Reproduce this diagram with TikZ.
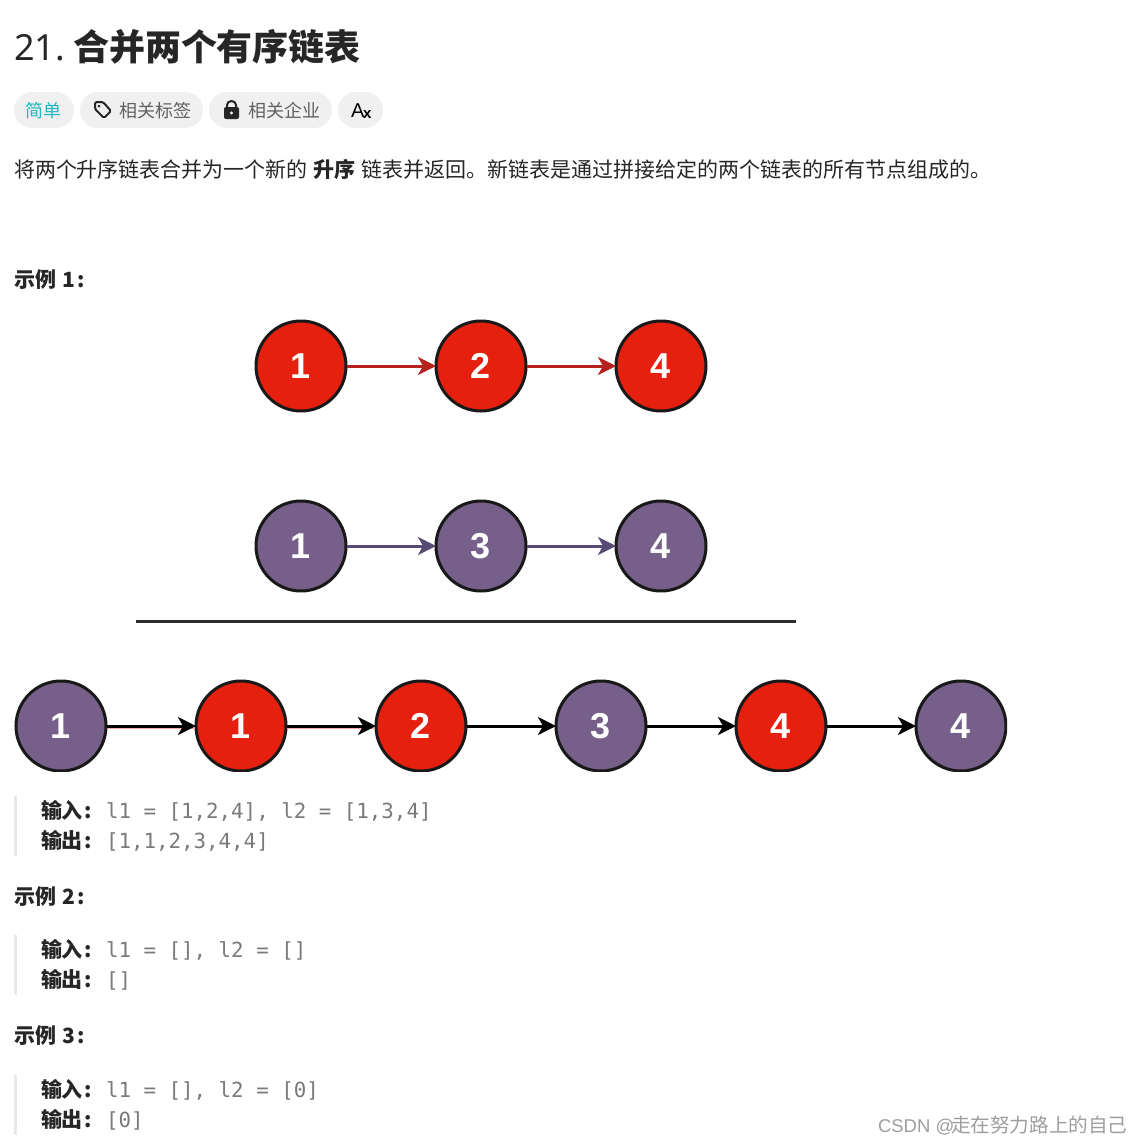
\documentclass[tikz,border=0pt]{standalone}
\usepackage{fontspec}
\setmainfont{Noto Sans CJK SC}
\newfontfamily\latinFont{Noto Sans}
\newfontfamily\arialFont{Liberation Sans}
\newfontfamily\codeFont{DejaVu Sans Mono}
\usetikzlibrary{arrows.meta}
\definecolor{listRed}{HTML}{E5200F}
\definecolor{listPurple}{HTML}{766089}
\definecolor{lineRed}{HTML}{B5211C}
\definecolor{linePurple}{HTML}{574A75}
\definecolor{pillGray}{HTML}{F0F0F0}
\definecolor{barGray}{HTML}{E8E8E8}
\definecolor{inkDark}{HTML}{262626}
\tikzset{
  txt/.style={anchor=base west,inner sep=0pt,outer sep=0pt,text=inkDark},
  body/.style={txt,font=\fontsize{21}{24}\selectfont},
  boldText/.style={body,font=\fontsize{21}{24}\selectfont\bfseries},
  codeText/.style={txt,text=black!52,font=\fontsize{20.8}{24}\selectfont\codeFont},
  tagText/.style={txt,text=black!62,font=\fontsize{18}{22}\selectfont},
  pill/.style={fill=pillGray,rounded corners=18pt,minimum height=36pt,inner sep=0pt},
  listNode/.style={shape=circle,draw=black!90,line width=3pt,minimum size=90pt,inner sep=0pt,
    text=white,font=\fontsize{36}{40}\selectfont\arialFont\bfseries},
  redNode/.style={listNode,fill=listRed},
  purpleNode/.style={listNode,fill=listPurple},
  linkArrow/.style={-{Stealth[length=18pt,width=18pt,inset=5pt]},line width=3pt,shorten >=-1.5pt,shorten <=-1pt},
}
\begin{document}
\begin{tikzpicture}[x=1pt,y=-1pt]
\path[use as bounding box,fill=white] (0,0) rectangle (1143,1144);
%% heading
\node[txt,font=\fontsize{36}{40}\selectfont\latinFont] (num) at (14,60) {21.};
\node[txt,font=\fontsize{36}{40}\selectfont\bfseries] (title) at (73,60) {合并两个有序链表};
%% pills
\node[pill,minimum width=60pt] (easy) at (44,110) {};
\node[pill,minimum width=123pt] (tags) at (141.5,110) {};
\node[pill,minimum width=123pt] (firms) at (270.5,110) {};
\node[pill,minimum width=45pt] (lang) at (360.5,110) {};
\node[tagText,text={rgb,255:red,30;green,185;blue,190}] (easyText) at (25,117) {简单};
\node[tagText] (tagsText) at (119,117) {相关标签};
\node[tagText] (firmsText) at (248,117) {相关企业};
\draw[inkDark,line width=2pt,line join=round,rounded corners=1.5pt]
  (95,102) -- (103,102) -- (111,111) -- (104,118) -- (95,109) -- cycle;
\fill[inkDark] (99,106) circle (1.5);
\draw[inkDark,line width=2pt] (227,108) -- (227,105) arc[start angle=180,end angle=360,x radius=4.5,y radius=4] -- (236,108);
\fill[inkDark,rounded corners=2pt] (224,107) rectangle (239,119);
\fill[white] (231.5,113) circle (1.7);
\node[txt,text=black,font=\fontsize{20}{22}\selectfont\arialFont] (langA) at (351,117) {A};
\node[txt,text=black,font=\fontsize{15}{22}\selectfont\arialFont\bfseries] (langX) at (363,118) {x};
%% statement
\node[body] (statement) at (14,177) {将两个升序链表合并为一个新的\hspace{6pt}{\bfseries 升序}\hspace{6pt}链表并返回。新链表是通过拼接给定的两个链表的所有节点组成的。};
\node[boldText] (ex1) at (14,287) {示例\hspace{7pt}1\hspace{2pt}:};
%% lists
\node[redNode] (r1) at (301,366) {1};
\node[redNode] (r2) at (481,366) {2};
\node[redNode] (r4) at (661,366) {4};
%%
\node[purpleNode] (p1) at (301,546) {1};
\node[purpleNode] (p3) at (481,546) {3};
\node[purpleNode] (p4) at (661,546) {4};
%%
\draw[line width=3pt,black!82] (136,621) -- (796,621);
%%
\begin{scope}
\clip (0,640) rectangle (1007,771.5);
\node[purpleNode] (m1) at (61,726) {1};
\node[redNode] (m2) at (241,726) {1};
\node[redNode] (m3) at (421,726) {2};
\node[purpleNode] (m4) at (601,726) {3};
\node[redNode] (m5) at (781,726) {4};
\node[purpleNode] (m6) at (961,726) {4};
\end{scope}
\path
\foreach \startNode/\endNode in {r1/r2, r2/r4}
{
  (\startNode) edge[linkArrow,lineRed] (\endNode)
};
\path
\foreach \startNode/\endNode in {p1/p3, p3/p4}
{
  (\startNode) edge[linkArrow,linePurple] (\endNode)
};
\path
\foreach \startNode/\endNode in {m1/m2, m2/m3}
{
  (\startNode) edge[red!35,line width=1pt,transform canvas={yshift=-2pt}] (\endNode)
};
\path
\foreach \startNode/\endNode in {m1/m2, m2/m3, m3/m4, m4/m5, m5/m6}
{
  (\startNode) edge[linkArrow,black] (\endNode)
};
%% example 1
\fill[barGray] (14,796) rectangle (17,856);
\node[boldText] (in1) at (41,818) {输入\hspace{2pt}:};
\node[codeText] (in1v) at (106,818) {l1 = [1,2,4], l2 = [1,3,4]};
\node[boldText] (out1) at (41,848) {输出\hspace{2pt}:};
\node[codeText] (out1v) at (106,848) {[1,1,2,3,4,4]};
%% example 2
\node[boldText] (ex2) at (14,904) {示例\hspace{7pt}2\hspace{2pt}:};
\fill[barGray] (14,935) rectangle (17,995);
\node[boldText] (in2) at (41,957) {输入\hspace{2pt}:};
\node[codeText] (in2v) at (106,957) {l1 = [], l2 = []};
\node[boldText] (out2) at (41,987) {输出\hspace{2pt}:};
\node[codeText] (out2v) at (106,987) {[]};
%% example 3
\node[boldText] (ex3) at (14,1043) {示例\hspace{7pt}3\hspace{2pt}:};
\fill[barGray] (14,1075) rectangle (17,1135);
\node[boldText] (in3) at (41,1097) {输入\hspace{2pt}:};
\node[codeText] (in3v) at (106,1097) {l1 = [], l2 = [0]};
\node[boldText] (out3) at (41,1127) {输出\hspace{2pt}:};
\node[codeText] (out3v) at (106,1127) {[0]};
%% watermark
\node[txt,text=black!38,font=\fontsize{18.5}{24}\selectfont\arialFont] (mark) at (878,1132) {CSDN @};
\node[txt,text=black!38,font=\fontsize{19.6}{24}\selectfont] (markCjk) at (951,1132) {走在努力路上的自己};
\end{tikzpicture}
\end{document}
